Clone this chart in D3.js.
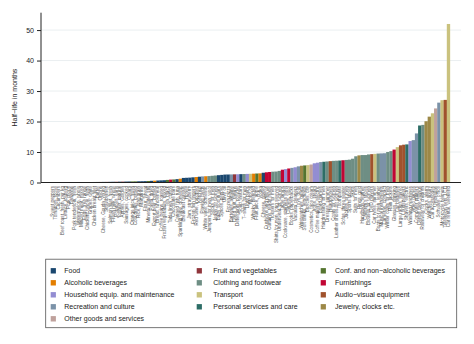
<!DOCTYPE html>
<html>
<head>
<meta charset="utf-8">
<script src="https://cdn.jsdelivr.net/npm/d3@7"></script>
<style>
  html, body { margin: 0; padding: 0; background: #fff; }
  svg { display: block; font-family: "Liberation Sans", Arial, sans-serif; }
</style>
</head>
<body>
<svg id="chart" width="474" height="344"></svg>
<script>
// Product groups and their colours
const categories = [
  "Food", "Fruit and vegetables", "Conf. and non\u2212alcoholic beverages",
  "Alcoholic beverages", "Clothing and footwear", "Furnishings",
  "Household equip. and maintenance", "Transport", "Audio\u2212visual equipment",
  "Recreation and culture", "Personal services and care", "Jewelry, clocks etc.",
  "Other goods and services"
];
const categoryColors = [
  "#1a476f", "#90353b", "#55752f", "#e37e00", "#6e8e84", "#c10534",
  "#938dd2", "#cac27e", "#a0522d", "#7b92a8", "#2d6d66", "#9c8847", "#bfa19c"
];

// Products, sorted by price half-life
const products = [
  "Sweet peppers", "Tomatoes, loose", "Cucumbers", "Beef roast, fresh, per kg", "Lettuce, iceberg",
  "Pork chops", "Bananas", "Pork tenderloin, fresh", "Watermelon, whole", "Minced meat, mixed",
  "Eggs, free range", "Chicken, whole, fresh", "Grapes, white", "Chicken breast fillet",
  "Butter", "Onions", "Cheese, Gouda, young", "Strawberries", "Salmon fillet, fresh",
  "Fresh milk, whole", "Potatoes, early", "Yoghurt, natural", "Apples, Golden",
  "Sausages, cooked", "Cream", "Orange juice, fresh", "Cola drinks, bottled",
  "Rice, long grain", "Margarine", "Flour, wheat", "Mineral water, still", "Pasta, dried",
  "Export beer, bottled", "Bread, wholemeal", "Coffee beans, roasted",
  "Frozen vegetables, mixed", "Tea, black", "Table linen, cotton", "Chocolate bars",
  "Canned fish, tuna", "Sparkling wine, domestic", "Breakfast cereals", "Honey",
  "Jam, strawberry", "Frozen fish fingers", "Red wine, imported", "Ketchup",
  "Playing cards", "White wine, domestic", "Jumpers for men, wool", "Socks for men",
  "Jeans for women", "Baby food in jars", "Spices, pepper", "Olive oil", "Frozen pizza",
  "Batteries, alkaline", "Dried fruit, raisins", "Detergents, powder", "Soup, instant",
  "T\u2212shirts for men", "Light bulbs", "Motor oil", "Whisky, blended",
  "Fruit juice, apple", "Vodka", "Cheese, grated", "Cushions and pillows",
  "Curtains, ready made", "Trousers for men", "Shirts for men, long sleeved",
  "Underwear for women", "Table lamps", "Cookware, stainless steel", "Carpets, wool",
  "Books, paperbacks", "Vacuum cleaners", "Toys, dolls", "Wristwatches, quartz",
  "Soft drinks, lemonade", "Bicycles, city", "Cosmetics, face cream", "Irons, steam",
  "Coffee makers, electric", "Board games", "Hairdressing for men", "Dresses, summer",
  "Headphones", "Coats for women", "Leather shoes for women", "Toothpaste",
  "Sofas, three seater", "Jackets for men", "Sports shoes", "Skirts", "Suits for men",
  "Rings, gold", "Handbags, leather", "Children's shoes", "Blouses for women",
  "DVD players", "Car tyres, summer", "Boots for men, leather", "Musical instruments",
  "Cameras, compact", "Winter coats for men", "Rain jackets", "Glasses, drinking",
  "Car batteries", "Large radios, stereo", "Loudspeakers", "Shavers, electric",
  "Washing machines", "Video games", "Computer printers", "Dental care, fillings",
  "Rainwear for children", "Clocks, alarm", "Watches, luxury", "Car accessories",
  "Umbrellas", "Software, office", "Motorcycle helmets", "Television sets, LCD",
  "Car rental, weekend"
];

// Group index of each product (into categories)
const productGroup = [
  1, 1, 1, 0, 1, 0, 1, 0, 1, 0, 0, 0,
  1, 0, 0, 1, 0, 1, 0, 0, 1, 0, 1, 0,
  0, 2, 2, 0, 0, 0, 2, 0, 3, 0, 0,
  0, 2, 5, 2, 0, 3, 0, 0, 0, 0, 3,
  0, 9, 3, 4, 4, 4, 0, 0, 0, 0, 9,
  1, 6, 0, 4, 6, 7, 3, 2, 3, 0, 5,
  5, 4, 4, 4, 5, 6, 5, 9, 6, 9,
  11, 2, 7, 12, 6, 6, 9, 10, 4, 8, 4,
  4, 10, 5, 4, 4, 4, 4, 11, 4, 4, 4,
  8, 7, 4, 9, 9, 4, 4, 5, 7, 8,
  8, 10, 6, 9, 9, 10, 4, 11, 11, 7,
  12, 9, 7, 8, 7
];

// Half-life in months
const halfLife = [
  0.05, 0.06, 0.07, 0.08, 0.09, 0.10, 0.10, 0.11, 0.12, 0.13, 0.14, 0.15,
  0.16, 0.17, 0.18, 0.19, 0.20, 0.21, 0.22, 0.24, 0.25, 0.27, 0.29, 0.31,
  0.33, 0.35, 0.37, 0.40, 0.42, 0.45, 0.50, 0.55, 0.60, 0.65, 0.70,
  0.75, 0.85, 0.95, 1.00, 1.10, 1.25, 1.50, 1.55, 1.60, 1.70, 1.80,
  1.90, 2.00, 2.05, 2.10, 2.20, 2.30, 2.40, 2.50, 2.60, 2.62, 2.65,
  2.68, 2.70, 2.74, 2.78, 2.82, 2.86, 2.90, 2.95, 3.00, 3.20, 3.35,
  3.45, 3.55, 3.60, 3.80, 4.20, 4.40, 4.60, 4.80, 5.00, 5.30,
  5.50, 5.60, 5.70, 5.90, 6.30, 6.50, 6.70, 6.80, 6.90, 7.00, 7.10,
  7.15, 7.20, 7.30, 7.40, 7.50, 7.80, 8.60, 8.90, 9.00, 9.00, 9.20,
  9.30, 9.40, 9.50, 9.55, 9.60, 10.0, 10.3, 10.8, 11.6, 12.2,
  12.4, 12.5, 13.6, 13.9, 16.1, 18.7, 18.9, 20.1, 21.6, 22.7,
  24.3, 26.2, 27.0, 27.1, 52.0
];

const yTicks = [0, 10, 20, 30, 40, 50];

const svg = d3.select("#chart");
const plot = { left: 41, right: 461, top: 12.7, bottom: 182.5, barLeft: 51, barRight: 450 };

const idx = d3.range(products.length);
const x = d3.scaleBand().domain(idx).range([plot.barLeft, plot.barRight]).padding(0);
const y = d3.scaleLinear().domain([0, 55.7]).range([plot.bottom, plot.top]);

// Horizontal gridlines
svg.append("g")
  .selectAll("line")
  .data(yTicks.filter(t => t > 0))
  .join("line")
  .attr("x1", plot.left).attr("x2", plot.right)
  .attr("y1", d => y(d)).attr("y2", d => y(d))
  .attr("stroke", "#eaeff1").attr("stroke-width", 1);

// Bars
svg.append("g")
  .selectAll("rect")
  .data(idx)
  .join("rect")
  .attr("x", i => x(i))
  .attr("width", x.bandwidth() + 0.15)
  .attr("y", i => y(halfLife[i]))
  .attr("height", i => y(0) - y(halfLife[i]))
  .attr("fill", i => categoryColors[productGroup[i]]);

// Y axis
const yAxis = svg.append("g")
  .attr("transform", `translate(${plot.left},0)`)
  .call(d3.axisLeft(y).tickValues(yTicks).tickSize(4).tickPadding(3));
yAxis.select(".domain").attr("d", `M0,${plot.top}V${plot.bottom}`).attr("stroke", "#222");
yAxis.selectAll(".tick line").attr("stroke", "#222");
yAxis.selectAll(".tick text").attr("font-size", 7).attr("fill", "#222")
  .attr("font-family", "'Liberation Sans', Arial, sans-serif");

// Baseline
svg.append("line")
  .attr("x1", plot.left).attr("x2", plot.right)
  .attr("y1", plot.bottom).attr("y2", plot.bottom)
  .attr("stroke", "#222").attr("stroke-width", 1.2);

// Y axis title
svg.append("text")
  .attr("transform", `translate(17,${(plot.top + plot.bottom) / 2}) rotate(-90)`)
  .attr("text-anchor", "middle")
  .attr("font-size", 7)
  .attr("fill", "#222")
  .text("Half\u2212life in months");

// Product labels, vertical under each bar
svg.append("g")
  .selectAll("text")
  .data(idx)
  .join("text")
  .attr("transform", i => `translate(${x(i) + x.bandwidth() / 2 + 1.5},${plot.bottom + 3.5}) rotate(-90)`)
  .attr("text-anchor", "end")
  .attr("font-size", 4.6)
  .attr("fill", "#555")
  .text(i => products[i]);

// Legend
const legend = svg.append("g");
legend.append("rect")
  .attr("x", 45.7).attr("y", 259.2)
  .attr("width", 411).attr("height", 68.5)
  .attr("fill", "#fff").attr("stroke", "#555").attr("stroke-width", 0.8);

const colX = [53.3, 199.3, 323.3];
const textX = [64.3, 213.3, 335];
const rowY = d3.scaleLinear().domain([0, 1]).range([270.8, 282.8]);

const items = legend.selectAll("g.item")
  .data(categories.map((c, i) => ({ c, i })))
  .join("g").attr("class", "item")
  .attr("transform", d => `translate(0,${rowY(Math.floor(d.i / 3))})`);
items.append("rect")
  .attr("x", d => colX[d.i % 3] - 2.6).attr("y", -2.7)
  .attr("width", 5.2).attr("height", 5.4)
  .attr("fill", d => categoryColors[d.i]);
items.append("text")
  .attr("x", d => textX[d.i % 3])
  .attr("dy", "0.35em")
  .attr("font-size", 7)
  .attr("fill", "#222")
  .text(d => d.c);
</script>
</body>
</html>
